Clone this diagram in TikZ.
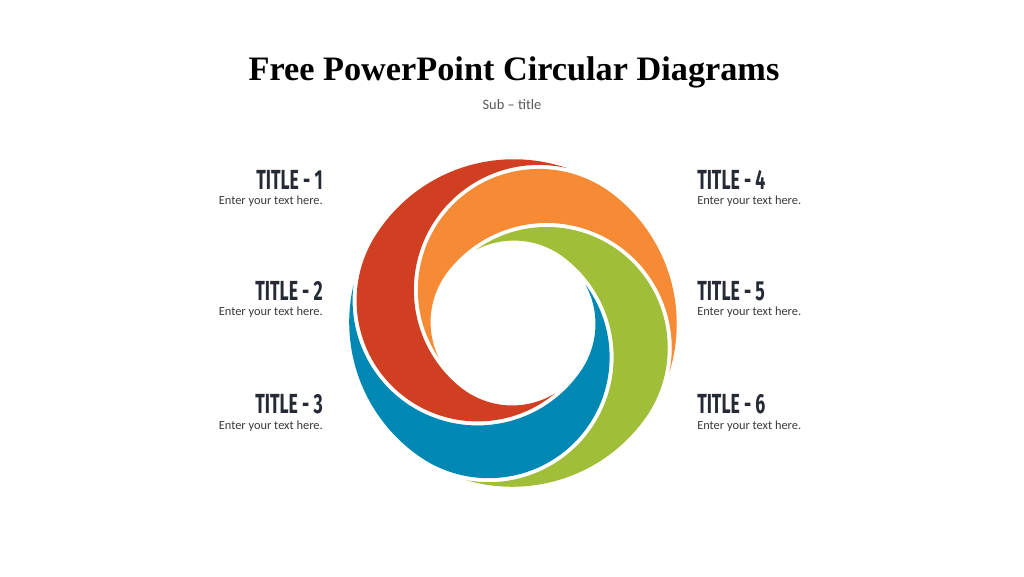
\documentclass[tikz,border=0pt]{standalone}
\usepackage{fontspec}
\setmainfont{Liberation Serif}
\newfontfamily\calibri{Carlito}
\newfontfamily\bebas[FakeStretch=0.64]{Fira Sans}
\definecolor{cred}{HTML}{D13F23}
\definecolor{corange}{HTML}{F68A35}
\definecolor{cgreen}{HTML}{A1BE38}
\definecolor{cblue}{HTML}{0088B5}
\definecolor{ctitle}{HTML}{252A34}
\definecolor{csub}{HTML}{595959}
\definecolor{ctext}{HTML}{3A3A3A}
% #1 colour, #2 own circle direction, #3 next circle direction
\newcommand\swirlshape[3]{%
  \pgfmathsetmacro\swA{#2+19}%
  \pgfmathsetmacro\swB{#3}%
  \pgfmathsetmacro\swC{#3+153.3}%
  \pgfmathsetmacro\swD{#2+180}%
  \fill[#1] plot[domain=\swA:\swB, samples=60, variable=\t]
       ({\t}:{164-(\t-\swA)/(\swB-\swA)})
    -- plot[domain=0:153.3, samples=100, variable=\t]
       ({#3+\t}:{42*cos(\t)+sqrt(14641-1764*sin(\t)*sin(\t))})
    -- plot[domain=\swC:\swD, samples=40, variable=\t]
       ({\t}:{82+(\t-\swC)/(\swD-\swC)})
    -- plot[domain=180:19, samples=100, variable=\t]
       ({#2+\t}:{42*cos(\t)+sqrt(15625-1764*sin(\t)*sin(\t))})
    -- cycle;}
\begin{document}
\begin{tikzpicture}[x=0.75pt,y=0.75pt,
  lab/.style={font=\bebas\bfseries\fontsize{20.7}{24}\selectfont, text=ctitle, inner sep=0pt},
  desc/.style={font=\calibri\fontsize{9.3}{11}\selectfont, text=ctext, inner sep=0pt}]
\useasboundingbox (0,0) rectangle (1024,576);
\fill[white] (0,0) rectangle (1024,576);
\node[anchor=base, inner sep=0pt, font=\fontsize{25.7}{30}\selectfont\bfseries] (title) at (514,495) {Free PowerPoint Circular Diagrams};
\node[anchor=base, inner sep=0pt, text=csub, font=\calibri\fontsize{10.8}{13}\selectfont] (subtitle) at (512,466.5) {Sub – title};
\begin{scope}[shift={(513,253)}]
  \swirlshape{cred}{52}{147.5}
  \swirlshape{cblue}{147.5}{234.5}
  \swirlshape{cgreen}{234.5}{323.5}
  \swirlshape{corange}{323.5}{412}
\end{scope}
\node[lab, anchor=base east] (t1) at (323,387) {TITLE - 1};
\node[desc, anchor=base east] (d1) at (323,371.5) {Enter your text here.};
\node[lab, anchor=base east] (t2) at (323,276) {TITLE - 2};
\node[desc, anchor=base east] (d2) at (323,260.5) {Enter your text here.};
\node[lab, anchor=base east] (t3) at (323,162.5) {TITLE - 3};
\node[desc, anchor=base east] (d3) at (323,147) {Enter your text here.};
\node[lab, anchor=base west] (t4) at (697,387) {TITLE - 4};
\node[desc, anchor=base west] (d4) at (697,371.5) {Enter your text here.};
\node[lab, anchor=base west] (t5) at (697,276) {TITLE - 5};
\node[desc, anchor=base west] (d5) at (697,260.5) {Enter your text here.};
\node[lab, anchor=base west] (t6) at (697,162.5) {TITLE - 6};
\node[desc, anchor=base west] (d6) at (697,147) {Enter your text here.};
\end{tikzpicture}
\end{document}
